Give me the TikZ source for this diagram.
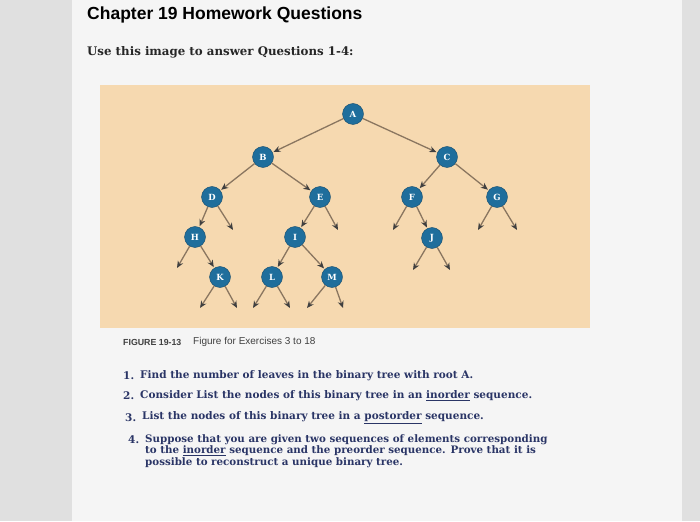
\documentclass[tikz,border=0pt]{standalone}
\usepackage{fontspec}
\setmainfont{DejaVu Serif}
\setsansfont{Liberation Sans}
\usetikzlibrary{arrows.meta}
\definecolor{nodeblue}{HTML}{1F6E9C}
\definecolor{panel}{HTML}{F6D9B0}
\definecolor{edgec}{HTML}{8A7660}
\definecolor{qtext}{HTML}{2A3566}
\begin{document}
\begin{tikzpicture}[x=1pt,y=-1pt,
  tn/.style={circle,fill=nodeblue,draw=nodeblue!70!black,minimum size=21pt,inner sep=0pt,text=white,font=\fontsize{8.5}{9}\selectfont\bfseries},
  ed/.style={draw=edgec,line width=1.3pt,-{Stealth[length=7pt,width=6pt,black!75]},shorten >=1pt},
  q/.style={anchor=west,text=qtext,font=\fontsize{10.5}{12}\selectfont\bfseries,inner sep=0pt}]
\fill[black!12] (0,0) rectangle (700,521);
\fill[white!96!black] (72,0) rectangle (682,521);
\fill[panel] (100,85) rectangle (590,328);
\node[anchor=west,inner sep=0pt,font=\sffamily\bfseries\fontsize{17.5}{20}\selectfont] (title) at (87,15) {Chapter 19 Homework Questions};
\node[anchor=west,inner sep=0pt,font=\bfseries\fontsize{11.8}{13}\selectfont,text=black!85] (use) at (87,52) {Use this image to answer Questions 1-4:};
% tree nodes
\node[tn] (A) at (353,114) {A};
\node[tn] (B) at (263,157) {B};
\node[tn] (C) at (447,157) {C};
\node[tn] (D) at (212,197) {D};
\node[tn] (E) at (320,197) {E};
\node[tn] (F) at (412,197) {F};
\node[tn] (G) at (497,197) {G};
\node[tn] (H) at (195,237) {H};
\node[tn] (I) at (295,237) {I};
\node[tn] (J) at (432,238) {J};
\node[tn] (K) at (220,277) {K};
\node[tn] (L) at (272,277) {L};
\node[tn] (M) at (332,277) {M};
\foreach \n/\x/\y in {d1/233/230,h1/177/268,e1/338/230,f1/393/230,g1/478/230,g2/517/230,j1/413/270,j2/450/270,k1/200/308,k2/237/308,l1/253/308,l2/290/308,m1/307/308,m2/343/308}
  \coordinate (\n) at (\x,\y);
\foreach \a/\b in {A/B,A/C,B/D,B/E,C/F,C/G,D/H,E/I,F/J,H/K,I/L,I/M}
  \draw[ed] (\a) -- (\b);
\foreach \a/\b in {D/d1,H/h1,E/e1,F/f1,G/g1,G/g2,J/j1,J/j2,K/k1,K/k2,L/l1,L/l2,M/m1,M/m2}
  \draw[ed,shorten >=0pt] (\a) -- (\b);
% caption
\node[anchor=west,inner sep=0pt,font=\sffamily\bfseries\fontsize{8.8}{10}\selectfont,text=black!75] (figl) at (123,342) {FIGURE 19-13};
\node[anchor=west,inner sep=0pt,font=\sffamily\fontsize{10}{11}\selectfont,text=black!75] (figt) at (193,342) {Figure for Exercises 3 to 18};
% questions
\node[q] (q1n) at (123,376) {1.};
\node[q] (q1) at (140,376) {Find the number of leaves in the binary tree with root A.};
\node[q] (q2n) at (123,396) {2.};
\node[q] (q2) at (140,396) {Consider List the nodes of this binary tree in an \underline{inorder} sequence.};
\node[q] (q3n) at (125,418) {3.};
\node[q] (q3) at (142,418) {List the nodes of this binary tree in a \underline{postorder} sequence.};
\node[q] (q4n) at (128,440) {4.};
\node[q,anchor=north west,align=left,font=\fontsize{10.3}{11.5}\selectfont\bfseries] (q4) at (145,434) {Suppose that you are given two sequences of elements corresponding\\to the \underline{inorder} sequence and the preorder sequence. Prove that it is\\possible to reconstruct a unique binary tree.};
\end{tikzpicture}
\end{document}
